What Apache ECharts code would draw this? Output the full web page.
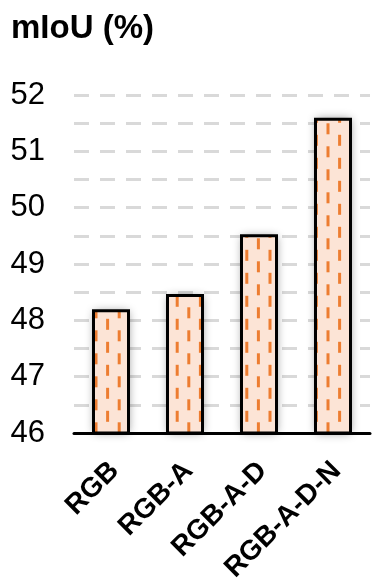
<!DOCTYPE html>
<html>
<head>
<meta charset="utf-8">
<script src="https://cdn.jsdelivr.net/npm/echarts@6/dist/echarts.min.js"></script>
<style>
html,body{margin:0;padding:0;background:#fff;}
#c{width:373px;height:587px;}
</style>
</head>
<body>
<div id="c"></div>
<script>
const categories = ['RGB', 'RGB-A', 'RGB-A-D', 'RGB-A-D-N'];
const miouValues = [48.17, 48.44, 49.5, 51.57];
const yTickLabels = [46, 47, 48, 49, 50, 51, 52];
const titleText = 'mIoU (%)';

const BAR_W = 35;
const HATCH = {x0: 96, dx: 11.6, y0: 8.3, dy: 23, len: 11, w: 3, color: '#ed7d31'};

function renderBar(params, api) {
  const idx = api.value(0);
  const val = api.value(1);
  const topPt = api.coord([idx, val]);
  const basePt = api.coord([idx, 46]);
  const cx = topPt[0];
  const left = cx - BAR_W / 2, right = cx + BAR_W / 2;
  const top = topPt[1], bottom = basePt[1];
  const children = [];
  children.push({
    type: 'rect',
    shape: {x: left, y: top, width: BAR_W, height: bottom - top},
    style: {fill: '#fce4d6', shadowBlur: 9, shadowColor: 'rgba(0,0,0,0.45)'}
  });
  // hatch dashes (global staggered grid), clipped to bar
  const kStart = Math.floor((left - HATCH.x0) / HATCH.dx) - 1;
  const kEnd = Math.ceil((right - HATCH.x0) / HATCH.dx) + 1;
  for (let k = kStart; k <= kEnd; k++) {
    const xc = HATCH.x0 + HATCH.dx * k;
    let xa = Math.max(left, xc - HATCH.w / 2), xb = Math.min(right, xc + HATCH.w / 2);
    if (xb <= xa) continue;
    const phase = HATCH.y0 + ((k % 2 === 0) ? 0 : HATCH.dy / 2);
    const mStart = Math.floor((top - phase) / HATCH.dy) - 1;
    const mEnd = Math.ceil((bottom - phase) / HATCH.dy) + 1;
    for (let m = mStart; m <= mEnd; m++) {
      const ya = Math.max(top, phase + HATCH.dy * m);
      const yb = Math.min(bottom, phase + HATCH.dy * m + HATCH.len);
      if (yb <= ya) continue;
      children.push({
        type: 'rect',
        shape: {x: xa, y: ya, width: xb - xa, height: yb - ya},
        style: {fill: HATCH.color}
      });
    }
  }
  children.push({
    type: 'rect',
    shape: {x: left, y: top, width: BAR_W, height: bottom - top},
    style: {fill: null, stroke: '#000', lineWidth: 3}
  });
  return {type: 'group', children: children};
}

const chart = echarts.init(document.getElementById('c'), null, {renderer: 'canvas'});
chart.setOption({
  animation: false,
  title: {
    text: titleText,
    left: 6,
    top: 7,
    textStyle: {fontFamily: 'Liberation Sans', fontWeight: 'bold', fontSize: 33, color: '#000'}
  },
  grid: {left: 74, right: 3, top: 95, bottom: 154, containLabel: false},
  xAxis: {
    type: 'category',
    data: categories,
    axisLine: {show: true, lineStyle: {color: '#000', width: 3}},
    axisTick: {show: false},
    z: 10,
    axisLabel: {
      rotate: 45,
      interval: 0,
      margin: 37,
      padding: [0, -5, 0, 0],
      fontFamily: 'Liberation Sans',
      fontWeight: 'bold',
      fontSize: 28,
      color: '#000'
    }
  },
  yAxis: {
    type: 'value',
    min: 46,
    max: 52,
    interval: 0.5,
    axisLine: {show: false},
    axisTick: {show: false},
    axisLabel: {
      margin: 29,
      fontFamily: 'Liberation Sans',
      fontSize: 31,
      color: '#000',
      formatter: v => (yTickLabels.indexOf(v) >= 0 ? String(v) : '')
    },
    splitLine: {show: true, lineStyle: {color: '#d9d9d9', width: 3, type: [15, 11]}}
  },
  series: [{
    type: 'custom',
    renderItem: renderBar,
    encode: {x: 0, y: 1},
    data: miouValues.map((v, i) => [i, v])
  }]
});
</script>
</body>
</html>
